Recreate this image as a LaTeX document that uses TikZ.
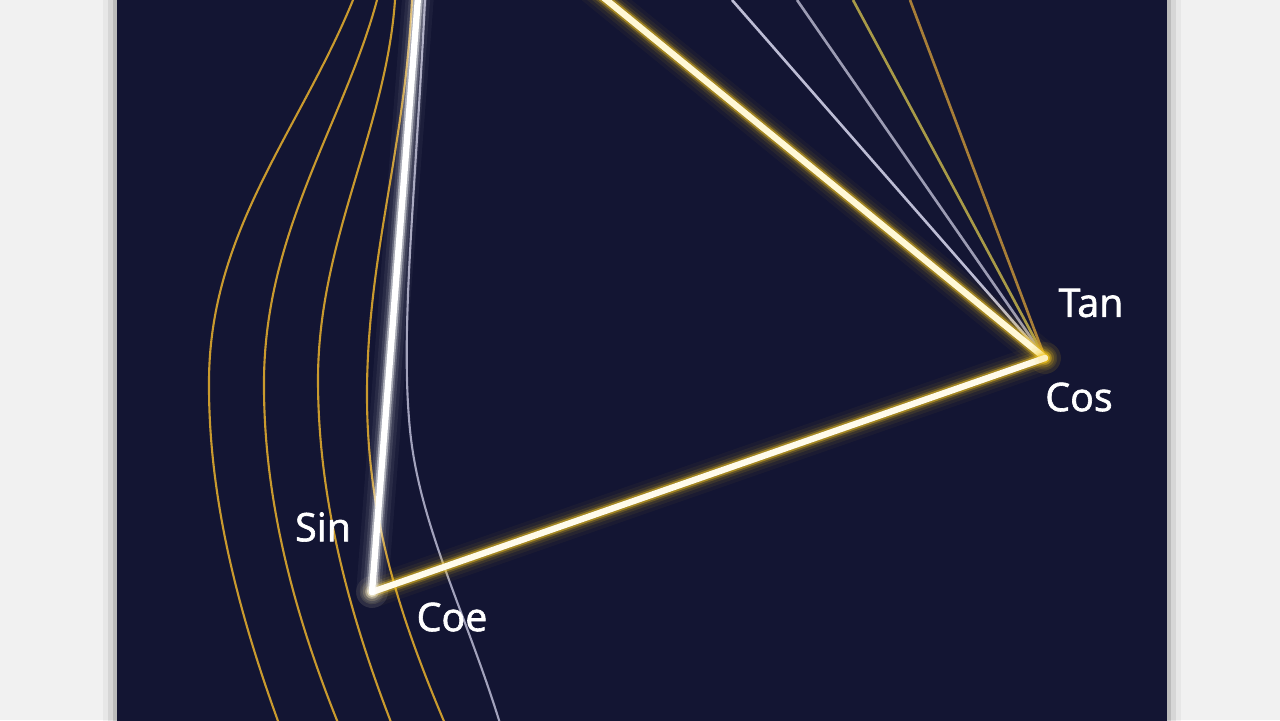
\documentclass[tikz,border=0pt]{standalone}
\usepackage{fontspec}
\newfontfamily\labelfont[FakeBold=1.6]{Open Sans}
\usepackage{tikz}
\usetikzlibrary{calc}
\definecolor{pagegray}{HTML}{F1F1F1}
\definecolor{panelnavy}{HTML}{131533}
\definecolor{edgegold}{HTML}{F5C61C}
\definecolor{corepale}{HTML}{FFF8D6}
\definecolor{curvegold}{HTML}{C99A2E}
\definecolor{curvegray}{HTML}{A2A2BC}
\definecolor{fanlilac}{HTML}{BCBCD4}
\definecolor{fangray}{HTML}{9C9CB4}
\definecolor{fanolive}{HTML}{A89A48}
\definecolor{fanbrown}{HTML}{A87E38}
% glowing triangle edge: #1 glow, #2 core, #3 path
\newcommand{\GlowEdge}[3]{%
  \foreach \gw/\ga in {9/0.04,7/0.06,5.2/0.1,3.8/0.2,2.8/0.45}{%
    \draw[line width=\gw pt, #1, opacity=\ga, line cap=round] #3;}%
  \draw[line width=1.8pt, #2, line cap=round] #3;}
\tikzset{
  curve/.style={line width=0.6pt, line cap=round},
  fan/.style={line width=0.75pt},
  lbl/.style={text=white, font=\labelfont\fontsize{11.2}{13}\selectfont, inner sep=0pt},
}
\begin{document}
\begin{tikzpicture}[x=0.01cm,y=-0.01cm]
  \useasboundingbox (0,0) rectangle (1280,720);
  \fill[pagegray] (0,0) rectangle (1280,720);
  \foreach \gw/\ga in {8/0.04,5/0.07,2.5/0.12}{
    \draw[black, opacity=\ga, line width=\gw pt] (117,-10) -- (117,730) (1167,-10) -- (1167,730);}
  \fill[panelnavy] (117,-10) rectangle (1167,730);
  \clip (117,0) rectangle (1167,720);

  \coordinate (apex) at (429,-145);
  \coordinate (tanv) at (1045,358);
  \coordinate (sinv) at (372,592);

  % curves on the left
  \draw[curve, curvegold] (356,-10) -- (353,0) .. controls (300,130) and (210,230) .. (209,380)
    .. controls (208,500) and (240,620) .. (285,740);
  \draw[curve, curvegold] (379,-10) -- (377,0) .. controls (345,120) and (265,230) .. (264,380)
    .. controls (263,500) and (295,620) .. (345,740);
  \draw[curve, curvegold] (396,-10) -- (395,0) .. controls (386,130) and (318,240) .. (318,380)
    .. controls (318,500) and (350,620) .. (398,740);
  \draw[curve, curvegold] (413,-10) -- (412,0) .. controls (405,150) and (366,260) .. (367,400)
    .. controls (368,520) and (400,620) .. (452,740);
  \draw[curve, curvegray] (426,-10) -- (425,0) .. controls (415,200) and (400,330) .. (410,430)
    .. controls (420,530) and (470,620) .. (505,740);

  % fan towards the right corner
  \foreach \fx/\fc in {732/fanlilac,797/fangray,853/fanolive,910/fanbrown}
    \draw[fan, \fc] (tanv) -- (\fx,0);

  % triangle
  \GlowEdge{edgegold}{corepale}{(apex) -- (tanv)}
  \GlowEdge{edgegold}{corepale!50!white}{(sinv) -- (tanv)}
  \GlowEdge{white}{white}{(apex) -- (sinv)}
  \foreach \gr/\ga in {16/0.05,11/0.07,7/0.1}{
    \fill[edgegold, opacity=\ga] (tanv) circle (\gr);
    \fill[white, opacity=\ga] (sinv) circle (\gr);}

  \node[lbl] (tan) at ($(tanv)+(46,-55)$) {Tan};
  \node[lbl] (cos) at ($(tanv)+(34,39)$) {Cos};
  \node[lbl] (sin) at ($(sinv)+(-49,-65)$) {Sin};
  \node[lbl] (coe) at ($(sinv)+(80,25)$) {Coe};
\end{tikzpicture}
\end{document}
